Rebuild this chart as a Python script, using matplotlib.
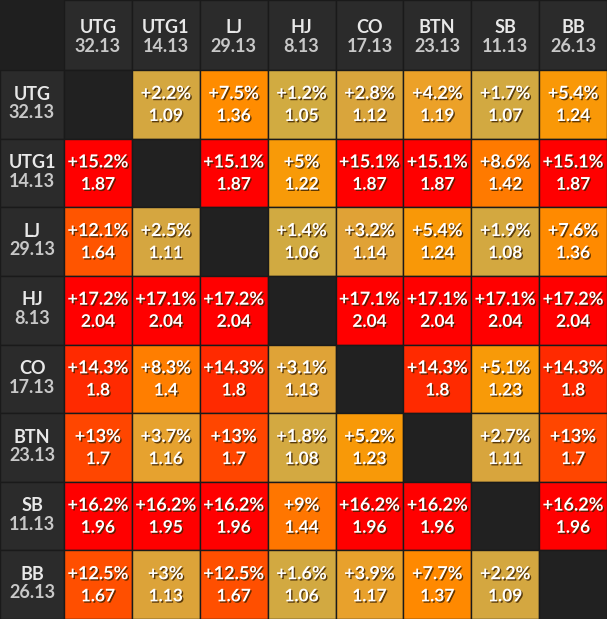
import matplotlib
matplotlib.use("Agg")
import matplotlib.pyplot as plt
import matplotlib.patheffects as pe
from matplotlib.colors import LinearSegmentedColormap
from matplotlib.patches import Rectangle
import numpy as np

positions = ["UTG", "UTG1", "LJ", "HJ", "CO", "BTN", "SB", "BB"]
stacks = ["32.13", "14.13", "29.13", "8.13", "17.13", "23.13", "11.13", "26.13"]

# percentage gain (row = hero, column = opponent); None on the diagonal
pct = [
    [None, 2.2, 7.5, 1.2, 2.8, 4.2, 1.7, 5.4],
    [15.2, None, 15.1, 5, 15.1, 15.1, 8.6, 15.1],
    [12.1, 2.5, None, 1.4, 3.2, 5.4, 1.9, 7.6],
    [17.2, 17.1, 17.2, None, 17.1, 17.1, 17.1, 17.2],
    [14.3, 8.3, 14.3, 3.1, None, 14.3, 5.1, 14.3],
    [13, 3.7, 13, 1.8, 5.2, None, 2.7, 13],
    [16.2, 16.2, 16.2, 9, 16.2, 16.2, None, 16.2],
    [12.5, 3, 12.5, 1.6, 3.9, 7.7, 2.2, None],
]
ratio = [
    [None, 1.09, 1.36, 1.05, 1.12, 1.19, 1.07, 1.24],
    [1.87, None, 1.87, 1.22, 1.87, 1.87, 1.42, 1.87],
    [1.64, 1.11, None, 1.06, 1.14, 1.24, 1.08, 1.36],
    [2.04, 2.04, 2.04, None, 2.04, 2.04, 2.04, 2.04],
    [1.8, 1.4, 1.8, 1.13, None, 1.8, 1.23, 1.8],
    [1.7, 1.16, 1.7, 1.08, 1.23, None, 1.11, 1.7],
    [1.96, 1.95, 1.96, 1.44, 1.96, 1.96, None, 1.96],
    [1.67, 1.13, 1.67, 1.06, 1.17, 1.37, 1.09, None],
]

# colour scale on the percentage
stops = [(0.0, "#cdaf42"), (2.5, "#d5a640"), (3.2, "#e0a236"), (4.2, "#eca128"),
         (5.0, "#f89a08"), (7.5, "#ff8c00"), (8.6, "#ff7a00"), (12.0, "#ff5800"),
         (13.0, "#ff4600"), (14.3, "#ff2c00"), (15.1, "#ff0000"), (18.0, "#ff0000")]
vmax = 18.0
cmap = LinearSegmentedColormap.from_list("gain", [(v / vmax, c) for v, c in stops])

FONT = "Lato"
W, H = 607, 619
fig = plt.figure(figsize=(W / 100, H / 100), dpi=100, facecolor="#1e1e1e")
ax = fig.add_axes([0, 0, 1, 1])
ax.set_facecolor("#1e1e1e")
n = len(positions)
hw = 64 / ((W - 64) / n)      # header column width in cell units
hh = 70 / ((H - 70) / n)      # header row height in cell units
ax.set_xlim(-hw, n)
ax.set_ylim(n, -hh)
ax.axis("off")

edge = "#1a1a1a"
shadow = [pe.withSimplePatchShadow(offset=(1, -1), shadow_rgbFace="#3a2000", alpha=0.8)]

# corner
ax.add_patch(Rectangle((-hw, -hh), hw, hh, facecolor="#1f1f1f", edgecolor="none"))

for j in range(n):
    ax.add_patch(Rectangle((j, -hh), 1, hh, facecolor="#2b2b2b", edgecolor=edge, lw=1))
    ax.text(j + 0.5, -hh * 0.61, positions[j], ha="center", va="center",
            color="#e8e8e8", fontsize=13, fontweight="bold", family=FONT)
    ax.text(j + 0.5, -hh * 0.34, stacks[j], ha="center", va="center",
            color="#c8c8c8", fontsize=13, fontweight="bold", family=FONT)
for i in range(n):
    ax.add_patch(Rectangle((-hw, i), hw, 1, facecolor="#2b2b2b", edgecolor=edge, lw=1))
    ax.text(-hw / 2, i + 0.35, positions[i], ha="center", va="center",
            color="#e8e8e8", fontsize=13, fontweight="bold", family=FONT)
    ax.text(-hw / 2, i + 0.62, stacks[i], ha="center", va="center",
            color="#c8c8c8", fontsize=13, fontweight="bold", family=FONT)

for i in range(n):
    for j in range(n):
        p = pct[i][j]
        if p is None:
            ax.add_patch(Rectangle((j, i), 1, 1, facecolor="#212121", edgecolor=edge, lw=1))
            continue
        ax.add_patch(Rectangle((j, i), 1, 1, facecolor=cmap(p / vmax), edgecolor=edge, lw=1))
        ax.text(j + 0.5, i + 0.34, f"+{p:g}%", ha="center", va="center", color="white",
                fontsize=13, fontweight="bold", family=FONT, path_effects=shadow)
        ax.text(j + 0.5, i + 0.67, f"{ratio[i][j]:g}", ha="center", va="center", color="white",
                fontsize=12.5, fontweight="bold", family=FONT, path_effects=shadow)

fig.savefig("out.png", dpi=100, facecolor=fig.get_facecolor())
